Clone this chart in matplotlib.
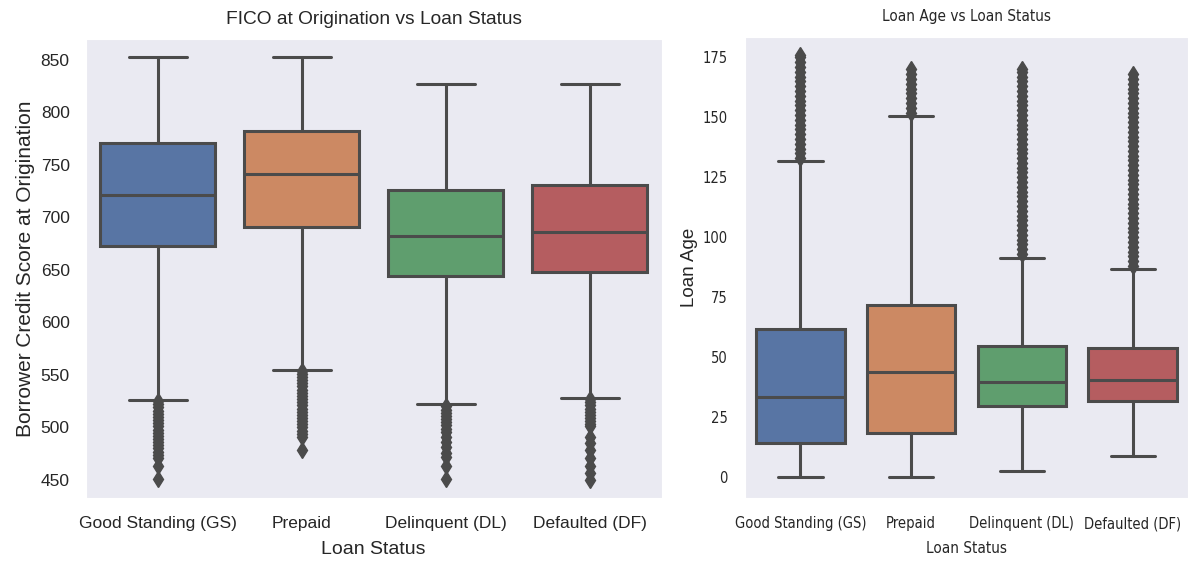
import matplotlib
matplotlib.use("Agg")
import matplotlib.pyplot as plt
from matplotlib import font_manager
import seaborn as sns

sns.set_style("dark")
plt.rcParams['font.family'] = ['Liberation Sans', 'DejaVu Sans']

statuses = ['Good Standing (GS)', 'Prepaid', 'Delinquent (DL)', 'Defaulted (DF)']
box_colors = ['#5875a4', '#cc8963', '#5f9e6e', '#b55d60']
line_gray = '#4b4b4b'

# FICO at origination: whisker low, q1, median, q3, whisker high
fico_whislo = [526, 555, 522, 528]
fico_q1 = [673, 691, 644, 648]
fico_med = [721, 741, 682, 686]
fico_q3 = [771, 782, 726, 731]
fico_whishi = [852, 852, 827, 827]
fico_fliers = [
    [525, 522, 519, 516, 513, 510, 507, 504, 501, 498, 495, 492, 489, 486,
     483, 480, 477, 474, 471, 463, 451],
    [554, 551, 548, 545, 542, 539, 536, 533, 530, 527, 524, 521, 518, 515,
     512, 509, 506, 503, 500, 497, 494, 491, 479],
    [520, 517, 514, 511, 508, 505, 502, 499, 496, 491, 486, 481, 476, 472,
     463, 451],
    [527, 524, 521, 518, 515, 512, 509, 506, 503, 501, 491, 485, 479, 471,
     463, 457, 450],
]

# Loan age (months)
age_whislo = [0, 0, 2.5, 8.8]
age_q1 = [14.4, 18.6, 29.6, 31.8]
age_med = [33.3, 44.0, 39.7, 40.6]
age_q3 = [61.7, 71.7, 54.8, 53.7]
age_whishi = [131.6, 150.5, 91.5, 86.8]
age_fliers = [
    [133, 135, 137, 139, 141, 143, 145, 147, 149, 151, 153, 155, 157, 159,
     161, 163, 165, 167, 169, 171, 173, 175, 176],
    [152, 154, 156, 158, 160, 162, 164, 166, 168, 170],
    [93, 95, 97, 99, 101, 103, 105, 107, 109, 111, 113, 115, 117, 119, 121,
     123, 125, 127, 129, 131, 133, 135, 137, 139, 141, 143, 145, 147, 149,
     151, 153, 155, 157, 159, 161, 163, 165, 167, 169, 170],
    [88, 90, 92, 94, 96, 98, 100, 102, 104, 106, 108, 110, 112, 114, 116,
     118, 120, 122, 124, 126, 128, 130, 132, 134, 136, 138, 140, 142, 144,
     146, 148, 150, 152, 154, 156, 158, 160, 162, 164, 166, 168],
]


def draw_boxes(ax, lo, q1, med, q3, hi, fliers):
    stats = []
    for i in range(len(statuses)):
        stats.append(dict(whislo=lo[i], q1=q1[i], med=med[i], q3=q3[i],
                          whishi=hi[i], fliers=fliers[i], label=statuses[i]))
    res = ax.bxp(stats, positions=range(len(statuses)), widths=0.8,
                 capwidths=0.4, patch_artist=True, showfliers=True,
                 boxprops=dict(edgecolor=line_gray, linewidth=2.2),
                 whiskerprops=dict(color=line_gray, linewidth=2.2),
                 capprops=dict(color=line_gray, linewidth=2.2),
                 medianprops=dict(color=line_gray, linewidth=2.2),
                 flierprops=dict(marker='d', markersize=8,
                                 markerfacecolor=line_gray,
                                 markeredgecolor=line_gray))
    for patch, c in zip(res['boxes'], box_colors):
        patch.set_facecolor(c)
    ax.set_xlim(-0.5, len(statuses) - 0.5)


# the right panel of the reference uses a horizontally squeezed face
narrow_file = None
for f in font_manager.fontManager.ttflist:
    if ('Narrow' in f.name or f.stretch in ('condensed', 'semi-condensed')) \
            and 'Bold' not in f.fname and 'Oblique' not in f.fname \
            and 'Italic' not in f.fname:
        if narrow_file is None or 'Liberation' in f.name:
            narrow_file = f.fname


def narrow_font(size):
    if narrow_file:
        return font_manager.FontProperties(fname=narrow_file, size=size)
    return font_manager.FontProperties(family='Liberation Sans',
                                       size=size * 0.8)


fig = plt.figure(figsize=(12.02, 5.72), dpi=100)
ax1 = fig.add_axes([0.0713, 0.1299, 0.4792, 0.8019])
ax2 = fig.add_axes([0.6198, 0.1302, 0.3686, 0.8056])

draw_boxes(ax1, fico_whislo, fico_q1, fico_med, fico_q3, fico_whishi, fico_fliers)
ax1.set_ylim(433.2, 869.5)
ax1.set_yticks([450, 500, 550, 600, 650, 700, 750, 800, 850])
ax1.tick_params(labelsize=12.5, colors='#262626')
ax1.tick_params(axis='x', pad=10)
ax1.tick_params(axis='y', pad=8)
ax1.set_xticks(range(len(statuses)), statuses)
ax1.set_title('FICO at Origination vs Loan Status', fontsize=13.8,
              color='#262626', pad=11)
ax1.set_xlabel('Loan Status', fontsize=14, color='#262626', labelpad=7)
ax1.set_ylabel('Borrower Credit Score at Origination', fontsize=15,
               color='#262626')

draw_boxes(ax2, age_whislo, age_q1, age_med, age_q3, age_whishi, age_fliers)
ax2.set_ylim(-8.5, 183.6)
ax2.set_yticks([0, 25, 50, 75, 100, 125, 150, 175])
ax2.set_xticks(range(len(statuses)), statuses)
ax2.tick_params(colors='#262626')
ax2.tick_params(axis='x', pad=10)
ax2.tick_params(axis='y', pad=9)
for lab in ax2.get_xticklabels():
    lab.set_fontproperties(narrow_font(10.5))
for lab in ax2.get_yticklabels():
    lab.set_fontproperties(narrow_font(10.5))
ax2.set_title('Loan Age vs Loan Status', color='#262626',
              fontproperties=narrow_font(11), pad=11)
ax2.set_xlabel('Loan Status', color='#262626',
               fontproperties=narrow_font(11), labelpad=7)
ax2.set_ylabel('Loan Age', fontsize=13.5, color='#262626', labelpad=3)

fig.savefig('out.png', dpi=100)
